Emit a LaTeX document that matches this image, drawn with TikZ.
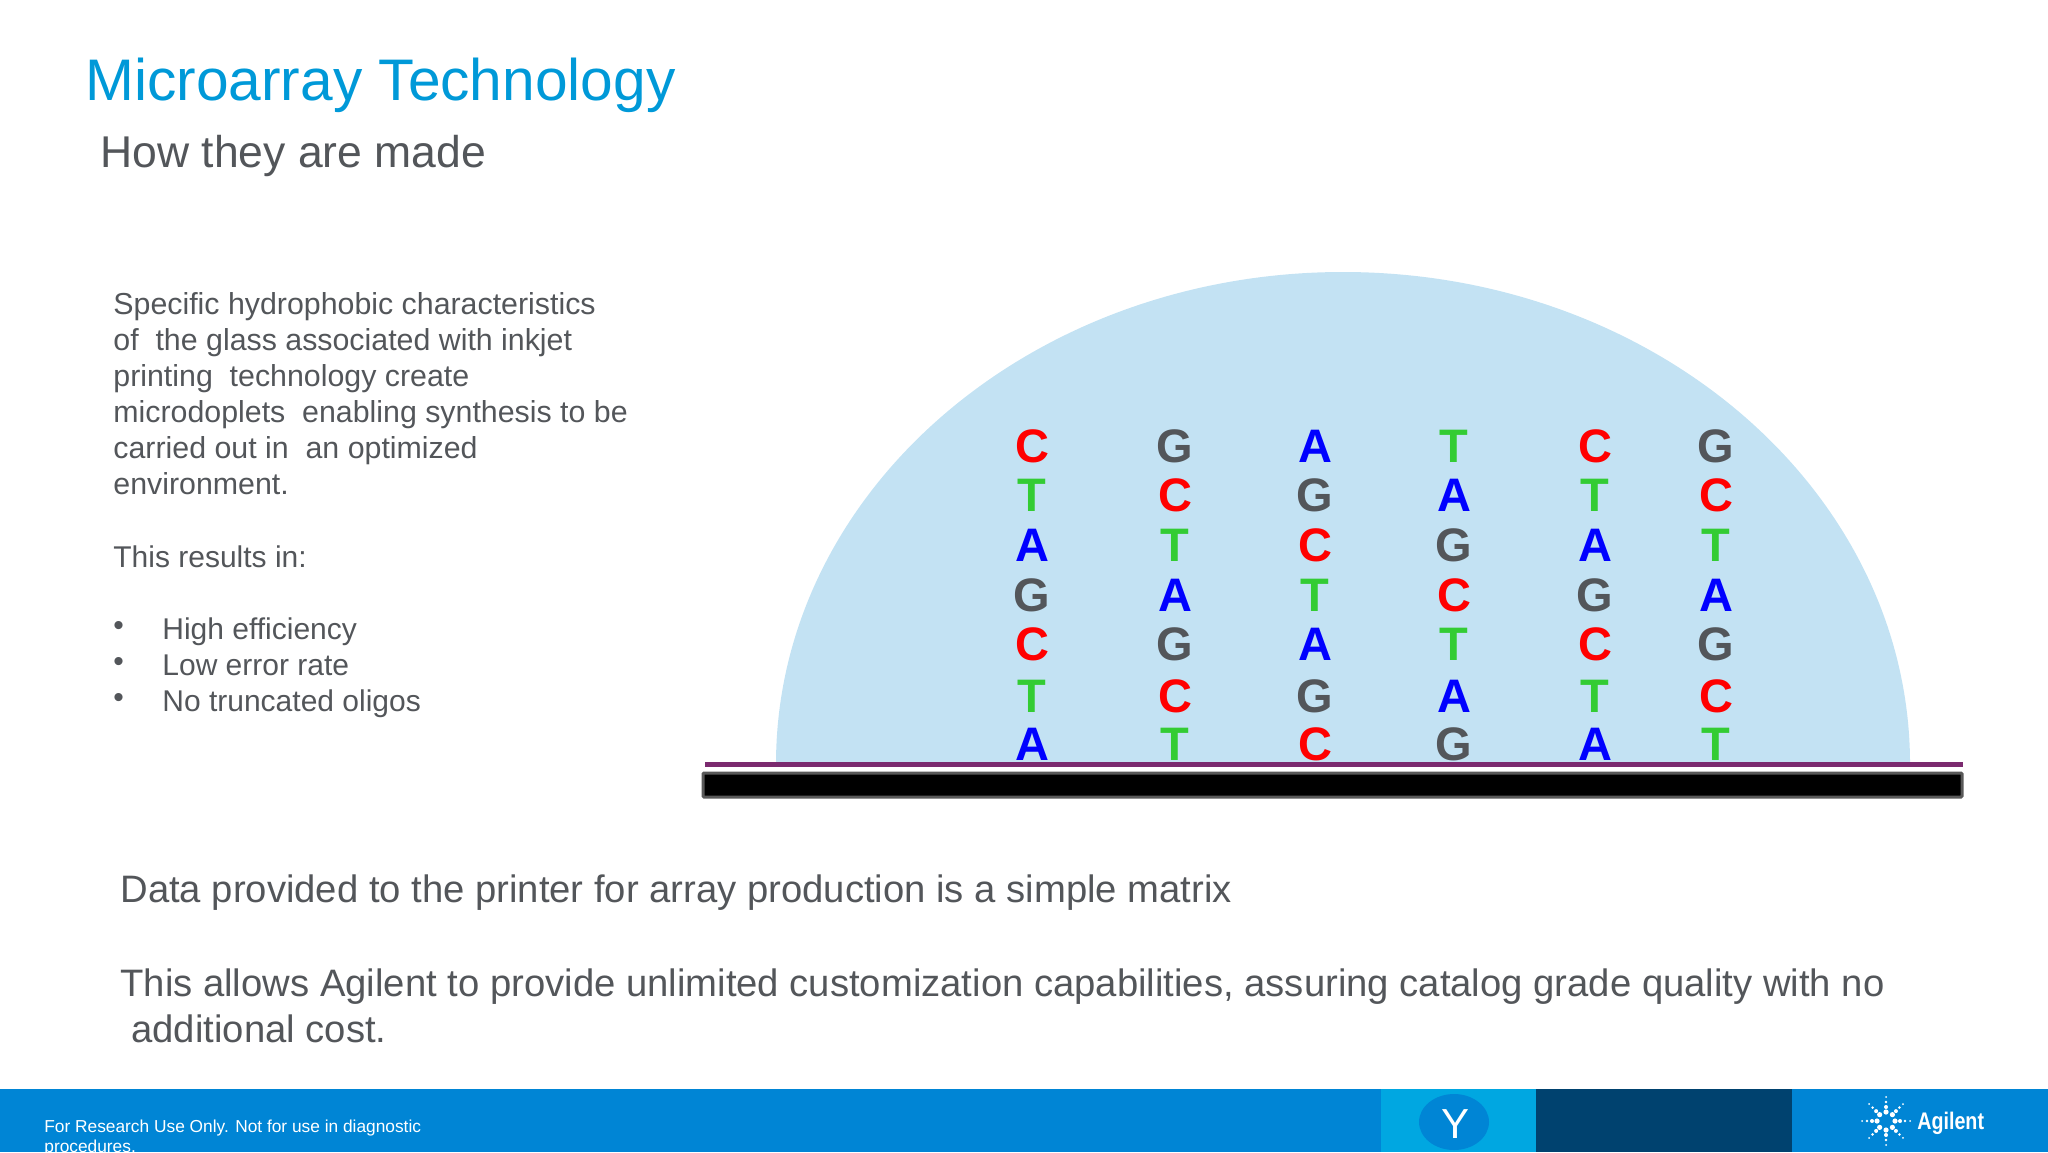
\documentclass[tikz,border=0pt]{standalone}
\usepackage{fontspec}
\setmainfont{Liberation Sans}
\usepackage{xcolor}
\usepackage{tikz}
\usetikzlibrary{positioning}
\usetikzlibrary{shapes.geometric}
\definecolor{titleblue}{HTML}{0099D8}
\definecolor{slidegrey}{HTML}{53565A}
\definecolor{dropblue}{HTML}{C3E2F3}
\definecolor{filmpurple}{HTML}{7B2A6F}
\definecolor{footblue}{HTML}{0085D5}
\definecolor{footlight}{HTML}{00A7E1}
\definecolor{footdark}{HTML}{00426F}
\definecolor{baseA}{HTML}{0000FF}
\definecolor{baseC}{HTML}{FF0000}
\definecolor{baseG}{HTML}{53565A}
\definecolor{baseT}{HTML}{33CC33}
\tikzset{
  slidetext/.style={inner sep=0pt,anchor=base west,text=slidegrey},
  bodytext/.style={slidetext,font=\fontsize{15}{18}\selectfont,align=left},
  introtext/.style={slidetext,font=\fontsize{15.17}{18}\selectfont,align=left},
  wideline/.style={slidetext,font=\fontsize{19.12}{23}\selectfont},
  baseletter/.style={inner sep=0pt,anchor=base,font=\fontsize{23.5}{23}\selectfont\bfseries},
  footnote/.style={inner sep=0pt,anchor=base west,text=white,font=\fontsize{8.66}{10}\selectfont},
}
\begin{document}
\begin{tikzpicture}[x=0.5pt,y=-0.5pt]
            \useasboundingbox (0,0) rectangle (2048,1152);
            % Heading
            \node[slidetext,text=titleblue,font=\fontsize{29.33}{32}\selectfont] (title) at (85,100.5) {Microarray Technology};
            \node[slidetext,font=\fontsize{22.25}{24}\selectfont] (subtitle) at (100,167) {How they are made};
            % Left column
            \foreach \y/\t/\n in {314/Specific hydrophobic characteristics/a,350/of\ \ the glass associated with inkjet/b,386/printing\ \ technology create/c,422/microdoplets\ \ enabling synthesis to be/d,458/carried out in\ \ an optimized/e,494/environment./f} {
                \node[introtext] (line\n) at (113,\y) {\t};
            }
            \node[bodytext] (results) at (113,567) {This results in:};
            \foreach \y/\t/\n in {639/High efficiency/one,675/Low error rate/two,711/No truncated oligos/three} {
                \node[bodytext] (item\n) at (162,\y) {\t};
                \node[bodytext] (bullet\n) at (113,\y-4) {\textbullet};
            }
            % Droplet on the slide
            \fill[dropblue] (776,764) arc[start angle=180,end angle=0,x radius=283.5pt,y radius=246pt] -- cycle;
            \fill[filmpurple] (705,761.5) rectangle (1963,767);
            \draw[draw=black!65,fill=black,line width=1.5pt,rounded corners=0.5pt] (703,773) rectangle (1962,797);
            % Oligos
            \foreach \x/\col [count=\c] in {1032/{C,T,A,G,C,T,A},1175/{G,C,T,A,G,C,T},1315/{A,G,C,T,A,G,C},1454/{T,A,G,C,T,A,G},1595/{C,T,A,G,C,T,A},1716/{G,C,T,A,G,C,T}} {
                \foreach \b [count=\r] in \col {
                    \pgfmathsetmacro{\y}{{462,511,561,611,660,712,760}[\r-1]}
                    \node[baseletter,text=base\b] (base\c\r) at (\x,\y) {\b};
                }
            }
            % Bottom text
            \node[wideline] (matrix) at (120,902) {Data provided to the printer for array production is a simple matrix};
            \node[wideline] (allows) at (120,996) {This allows Agilent to provide unlimited customization capabilities, assuring catalog grade quality with no};
            \node[wideline] (cost) at (131,1042) {additional cost.};
            % Footer
            \fill[footblue] (0,1089) rectangle (2048,1152);
            \fill[footlight] (1381,1089) rectangle (1536,1152);
            \fill[footdark] (1536,1089) rectangle (1792,1152);
            \node[ellipse,fill=footblue,text=white,inner sep=0pt,minimum width=35pt,minimum height=28pt] (badge) at (1454,1122) {};
            \node[inner sep=0pt,text=white,font=\fontsize{21}{21}\selectfont] (badgeletter) at (1455,1124) {Y};
            \node[footnote] (useonly) at (44,1132) {For Research Use Only. Not for use in diagnostic};
            \node[footnote] (procedures) at (44,1152) {procedures.};
            % Logo
            \foreach \a in {0,45,...,315} {
                \foreach \r/\s in {9/1.3,14/1.0,19/0.7,24/0.5} {
                    \fill[white] (1886,1121) ++(\a:\r) circle[radius=\s pt];
                }
            }
            \node[inner sep=0pt,anchor=base west,text=white,font=\fontsize{12}{12}\selectfont\bfseries,xscale=0.82] (agilent) at (1917,1129) {Agilent};
\end{tikzpicture}
\end{document}
